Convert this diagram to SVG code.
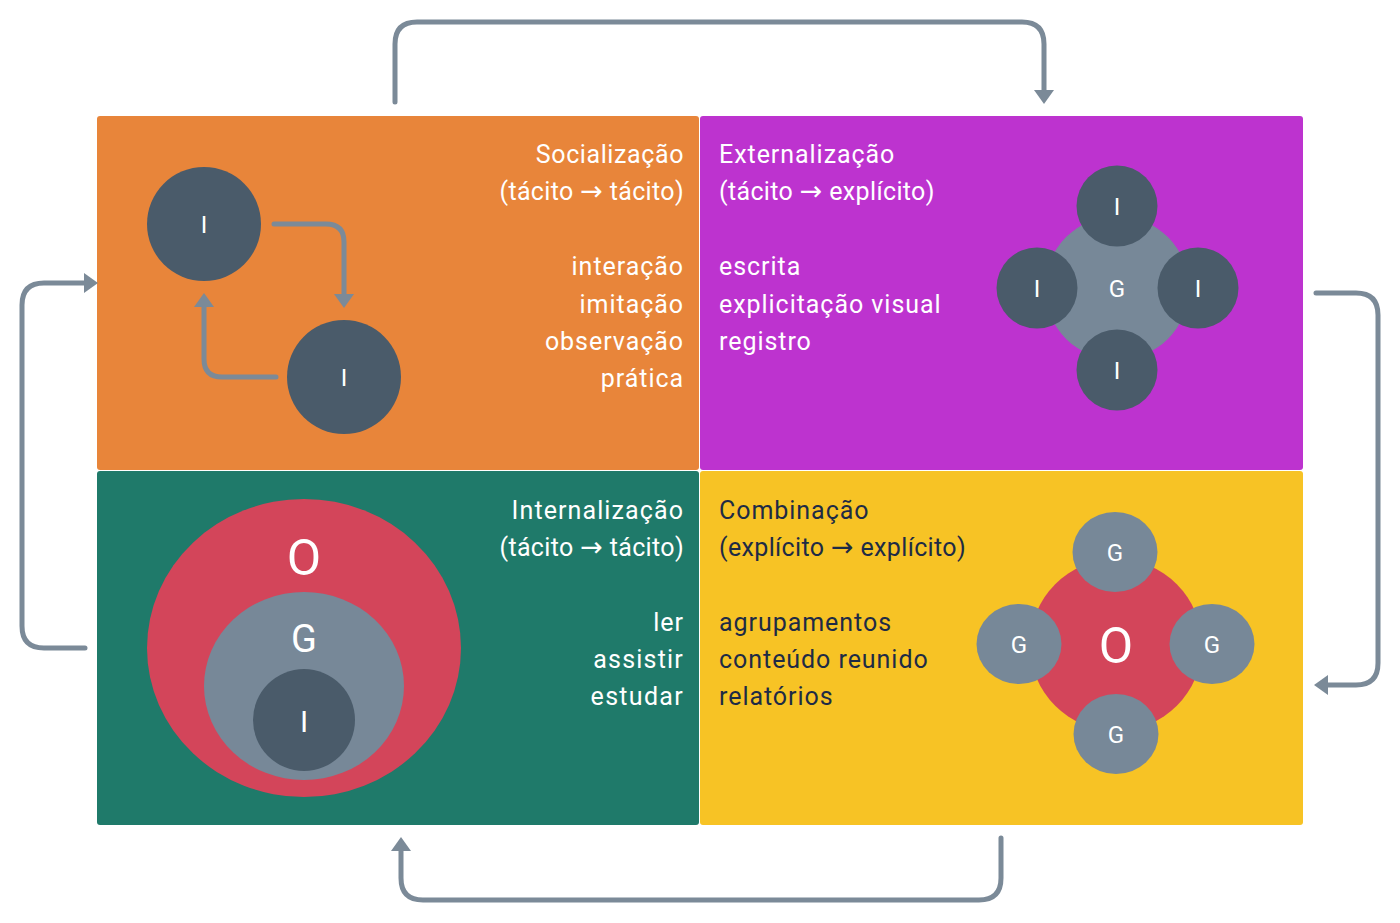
<svg xmlns="http://www.w3.org/2000/svg" width="1400" height="923" viewBox="0 0 1400 923">
<defs>
<style>
.t{font-family:Roboto,"Liberation Sans",sans-serif;font-size:25px;fill:#ffffff;letter-spacing:0.95px}
.s{letter-spacing:0.35px}
.ar{font-family:"DejaVu Sans",sans-serif;font-size:27px}
.dk{fill:#1E2B45}
.r{text-anchor:end}
.c{font-family:Roboto,"Liberation Sans",sans-serif;fill:#ffffff;text-anchor:middle;dominant-baseline:central}
.conn{fill:none;stroke:#7B8A98;stroke-width:5;stroke-linecap:round;stroke-linejoin:round}
.ah{fill:#7B8A98}
.ind{fill:#4A5B6A}
.grp{fill:#778898}
.org{fill:#D3455A}
</style>
</defs>
<rect width="1400" height="923" fill="#ffffff"/>
<g id="socializacao">
<rect x="97" y="116" width="602" height="354" rx="3" fill="#E8853A"/>
<text class="t r" x="684" y="163" style="letter-spacing:0.6px">Socialização</text>
<text class="t r s" x="684" y="200">(tácito <tspan class="ar">→</tspan> tácito)</text>
<text class="t r" x="684" y="275">interação</text>
<text class="t r" x="684" y="313">imitação</text>
<text class="t r" x="684" y="350">observação</text>
<text class="t r" x="684" y="387">prática</text>
<circle class="ind" cx="204" cy="224" r="57"/>
<text class="c" x="204" y="225" font-size="24">I</text>
<circle class="ind" cx="344" cy="377" r="57"/>
<text class="c" x="344" y="378" font-size="24">I</text>
<path class="conn" d="M274 224 H326 Q344 224 344 242 V296"/>
<polygon class="ah" points="334,294 354,294 344,308"/>
<path class="conn" d="M276 377 H222 Q204 377 204 359 V304"/>
<polygon class="ah" points="194,307 214,307 204,293"/>
</g>
<g id="externalizacao">
<rect x="700" y="116" width="603" height="354" rx="3" fill="#BD33CF"/>
<text class="t" x="719" y="163">Externalização</text>
<text class="t s" x="719" y="200">(tácito <tspan class="ar">→</tspan> explícito)</text>
<text class="t" x="719" y="275">escrita</text>
<text class="t" x="719" y="313">explicitação visual</text>
<text class="t" x="719" y="350">registro</text>
<circle class="grp" cx="1117" cy="288" r="72"/>
<text class="c" x="1117" y="289" font-size="24">G</text>
<circle class="ind" cx="1117" cy="206" r="40.5"/>
<text class="c" x="1117" y="207" font-size="24">I</text>
<circle class="ind" cx="1037" cy="288" r="40.5"/>
<text class="c" x="1037" y="289" font-size="24">I</text>
<circle class="ind" cx="1198" cy="288" r="40.5"/>
<text class="c" x="1198" y="289" font-size="24">I</text>
<circle class="ind" cx="1117" cy="370" r="40.5"/>
<text class="c" x="1117" y="371" font-size="24">I</text>
</g>
<g id="internalizacao">
<rect x="97" y="471" width="602" height="354" rx="3" fill="#1F7A6A"/>
<text class="t r" x="684" y="519" style="letter-spacing:1.1px">Internalização</text>
<text class="t r s" x="684" y="556">(tácito <tspan class="ar">→</tspan> tácito)</text>
<text class="t r" x="684" y="631">ler</text>
<text class="t r" x="684" y="668" style="letter-spacing:1.2px">assistir</text>
<text class="t r" x="684" y="705" style="letter-spacing:1.3px">estudar</text>
<ellipse class="org" cx="304" cy="648" rx="157" ry="149"/>
<text class="c" x="304" y="558" font-size="50">O</text>
<ellipse class="grp" cx="304" cy="686" rx="100" ry="94"/>
<text class="c" x="304" y="639" font-size="38">G</text>
<circle class="ind" cx="304" cy="720" r="51"/>
<text class="c" x="304" y="721" font-size="30">I</text>
</g>
<g id="combinacao">
<rect x="700" y="471" width="603" height="354" rx="3" fill="#F7C325"/>
<text class="t dk" x="719" y="519">Combinação</text>
<text class="t dk s" x="719" y="556">(explícito <tspan class="ar">→</tspan> explícito)</text>
<text class="t dk" x="719" y="631">agrupamentos</text>
<text class="t dk" x="719" y="668">conteúdo reunido</text>
<text class="t dk" x="719" y="705">relatórios</text>
<circle class="org" cx="1116" cy="645" r="86"/>
<text class="c" x="1116" y="646" font-size="50">O</text>
<ellipse class="grp" cx="1115" cy="552" rx="42.5" ry="40"/>
<text class="c" x="1115" y="553" font-size="24">G</text>
<ellipse class="grp" cx="1019" cy="644" rx="42.5" ry="40"/>
<text class="c" x="1019" y="645" font-size="24">G</text>
<ellipse class="grp" cx="1212" cy="644" rx="42.5" ry="40"/>
<text class="c" x="1212" y="645" font-size="24">G</text>
<ellipse class="grp" cx="1116" cy="734" rx="42.5" ry="40"/>
<text class="c" x="1116" y="735" font-size="24">G</text>
</g>
<g id="connectors">
<path class="conn" d="M395 102 V44 Q395 22 417 22 H1022 Q1044 22 1044 44 V92"/>
<polygon class="ah" points="1034,90 1054,90 1044,104"/>
<path class="conn" d="M1316 293 H1356 Q1378 293 1378 315 V663 Q1378 685 1356 685 H1326"/>
<polygon class="ah" points="1328,675 1328,695 1314,685"/>
<path class="conn" d="M1001 838 V878 Q1001 900 979 900 H423 Q401 900 401 878 V848"/>
<polygon class="ah" points="391,851 411,851 401,837"/>
<path class="conn" d="M85 648 H44 Q22 648 22 626 V305 Q22 283 44 283 H86"/>
<polygon class="ah" points="84,273 84,293 98,283"/>
</g>
</svg>
